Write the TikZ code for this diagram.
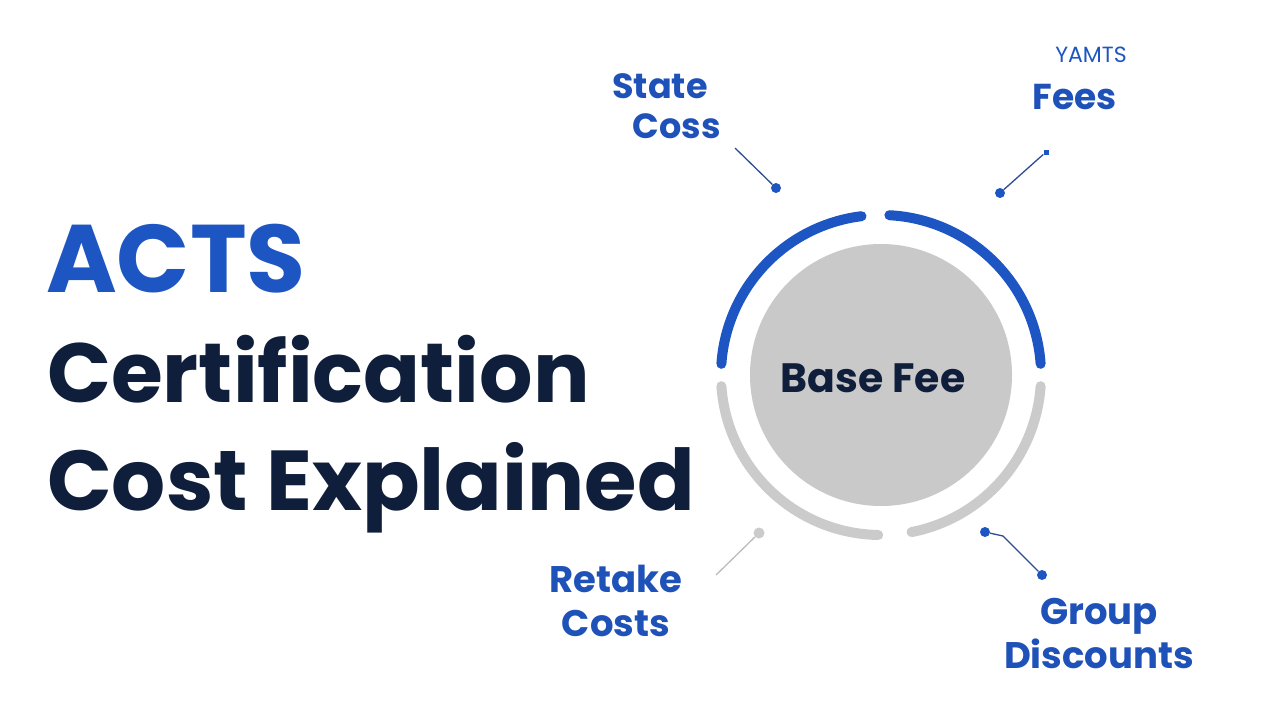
\documentclass[tikz,border=0pt]{standalone}
\usepackage{fontspec}
\setmainfont{Poppins}
\definecolor{tblue}{HTML}{1D55C2}
\definecolor{navy}{HTML}{0F1E3A}
\definecolor{lblue}{HTML}{1F52B8}
\definecolor{ringgray}{HTML}{CBCBCB}
\definecolor{diskgray}{HTML}{C9C9C9}
\definecolor{linec}{HTML}{2D4C94}
\begin{document}
\begin{tikzpicture}[x=1pt,y=-1pt,
  title/.style={anchor=base west,inner sep=0pt,font=\bfseries\fontsize{#1}{#1}\selectfont},
  lbl/.style={align=center,inner sep=0pt,text=lblue,font=\bfseries\fontsize{36}{44}\selectfont},
  ring/.style={line width=10pt,line cap=round},
  conn/.style={line width=1.3pt,draw=linec},
  dotb/.style={circle,fill=tblue,inner sep=0pt,minimum size=10pt},
  dotg/.style={circle,fill=ringgray,inner sep=0pt,minimum size=11pt}]
\useasboundingbox (0,0) rectangle (1280,720);
\fill[white] (0,0) rectangle (1280,720);
% title
\node[title=96,text=tblue] (t1) at (46,292) {ACTS};
\node[title=84,text=navy] (t2) at (47,402) {Certification};
\node[title=85,text=navy] (t3) at (47,510) {Cost Explained};
% central disk
\coordinate (c) at (881,375);
\node[circle,fill=diskgray,minimum size=262pt,inner sep=0pt] (disk) at (c) {};
\node[inner sep=0pt,anchor=base,text=navy,font=\bfseries\fontsize{41}{41}\selectfont] (base) at (873,392) {Base Fee};
% ring arcs (y axis flipped: angles measured clockwise)
\draw[ring,tblue] ([shift={(-176:160)}]c) arc[start angle=-176,end angle=-97,radius=160];
\draw[ring,tblue] ([shift={(-87:160)}]c) arc[start angle=-87,end angle=-4,radius=160];
\draw[ring,ringgray] ([shift={(176:160)}]c) arc[start angle=176,end angle=91,radius=160];
\draw[ring,ringgray] ([shift={(79:160)}]c) arc[start angle=79,end angle=4,radius=160];
% connectors
\node[dotb] (d1) at (776,188) {};
\coordinate (e1) at (735,148);
\draw[conn] (e1) -- (d1);
\node[dotb] (d2) at (1000,193) {};
\node[fill=tblue,inner sep=0pt,minimum size=5pt] (e2) at (1046,152) {};
\draw[conn] (d2) -- (e2);
\node[dotg] (d3) at (759,533) {};
\coordinate (e3) at (716,575);
\draw[line width=1.3pt,draw=ringgray!80!gray] (d3) -- (e3);
\node[dotb] (d4) at (985,532) {};
\coordinate (k4) at (1003,536);
\node[dotb] (e4) at (1042,575) {};
\draw[conn] (d4) -- (k4) -- (e4);
% labels (base anchor = baseline of last line)
\node[lbl,anchor=base,font=\bfseries\fontsize{35}{40}\selectfont] (l1) at (660,138) {State\\\hspace*{34pt}Coss};
\node[lbl,anchor=base] (l2) at (1075,109) {Fees};
\node[inner sep=0pt,text=tblue,font=\fontsize{22}{22}\selectfont] (l2b) at (1091,55) {YAMTS};
\node[lbl,anchor=base,font=\bfseries\fontsize{37}{44}\selectfont] (l3) at (616,636) {Retake\\Costs};
\node[lbl,anchor=base,font=\bfseries\fontsize{37}{44}\selectfont] (l4) at (1099,668) {Group\\Discounts};
\end{tikzpicture}
\end{document}
